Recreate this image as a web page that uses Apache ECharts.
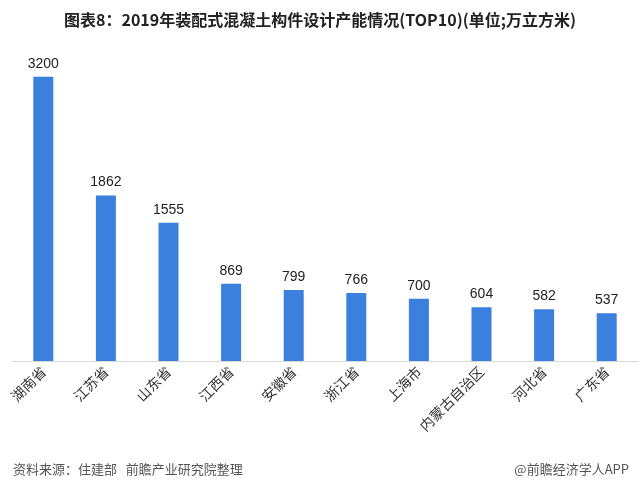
<!DOCTYPE html>
<html>
<head>
<meta charset="utf-8">
<script src="https://cdn.jsdelivr.net/npm/echarts@6/dist/echarts.min.js"></script>
<style>
html, body { margin: 0; padding: 0; background: #fff; }
#chart { width: 640px; height: 489px; }
</style>
</head>
<body>
<div id="chart"></div>
<script>
// 省份与设计产能（万立方米）
const provinces = ['湖南省', '江苏省', '山东省', '江西省', '安徽省', '浙江省', '上海市', '内蒙古自治区', '河北省', '广东省']
const capacity = [3200, 1862, 1555, 869, 799, 766, 700, 604, 582, 537]

const font = '"Noto Sans CJK SC", "Noto Sans", sans-serif'

let myChart = echarts.init(document.getElementById('chart'))
myChart.setOption({
  backgroundColor: '#fff',
  title: [
    {
      text: '图表8：2019年装配式混凝土构件设计产能情况(TOP10)(单位;万立方米)',
      left: 'center',
      top: 7,
      textStyle: { fontFamily: font, fontSize: 16, fontWeight: 'bold', color: '#222' }
    },
    {
      text: '资料来源：住建部   前瞻产业研究院整理',
      left: 8,
      top: 458,
      textStyle: { fontFamily: font, fontSize: 13, fontWeight: 'normal', color: '#555' }
    },
    {
      text: '@前瞻经济学人APP',
      right: 6,
      top: 458,
      textStyle: { fontFamily: font, fontSize: 13, fontWeight: 'normal', color: '#555' }
    }
  ],
  grid: {
    left: 12,
    right: 2,
    top: 50,
    bottom: 128
  },
  xAxis: {
    type: 'category',
    data: provinces,
    axisTick: { show: false },
    axisLine: { lineStyle: { color: '#d9d9d9' } },
    axisLabel: {
      rotate: 45,
      interval: 0,
      margin: 8,
      fontFamily: font,
      fontSize: 14,
      color: '#333'
    }
  },
  yAxis: {
    type: 'value',
    min: 0,
    max: 3500,
    show: false,
    splitLine: { show: false }
  },
  series: [{
    type: 'bar',
    data: capacity,
    barWidth: 20,
    itemStyle: { color: '#3a80dc' },
    label: {
      show: true,
      position: 'top',
      distance: 6,
      fontFamily: 'Arial, "Liberation Sans", sans-serif',
      fontSize: 14,
      color: '#222'
    }
  }]
})
</script>
</body>
</html>
